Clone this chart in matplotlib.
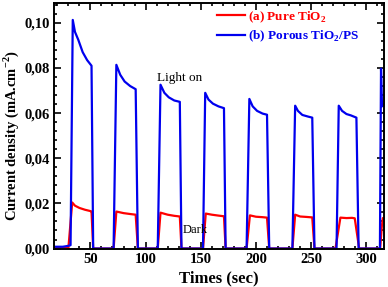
import matplotlib
matplotlib.use('Agg')
import matplotlib.pyplot as plt
from matplotlib.ticker import MultipleLocator, FuncFormatter

plt.rcParams['font.family'] = ['Liberation Serif', 'DejaVu Serif']
plt.rcParams['mathtext.fontset'] = 'custom'
plt.rcParams['mathtext.rm'] = 'Liberation Serif'
plt.rcParams['mathtext.bf'] = 'Liberation Serif:bold'

# (a) Pure TiO2 -- time (sec), current density (mA.cm-2)
pure_t = [17, 29, 30, 33.5, 36, 40, 45, 50, 51, 52.5,
          71, 73.5, 80, 86, 91, 93,
          111, 113.5, 120, 126, 131, 132.5,
          152, 154.5, 160, 166, 171, 172.5,
          191.5, 194.5, 200, 206, 210, 212,
          233, 235.5, 240, 246, 251, 253,
          272, 276.5, 282, 287, 289.5, 293.5,
          312.5, 314, 315, 316.5]
pure_j = [0.0006, 0.0006, 0.0, 0.0204, 0.0190, 0.0180, 0.0172, 0.0166, 0.0164, 0.0,
          0.0, 0.0164, 0.0157, 0.0153, 0.0150, 0.0,
          0.0, 0.0159, 0.0150, 0.0145, 0.0142, 0.0,
          0.0, 0.0155, 0.0150, 0.0146, 0.0143, 0.0,
          0.0, 0.0147, 0.0141, 0.0139, 0.0137, 0.0,
          0.0, 0.0150, 0.0142, 0.0140, 0.0138, 0.0,
          0.0, 0.0137, 0.0135, 0.0136, 0.0134, 0.0,
          0.0, 0.0097, 0.0135, 0.0135]

# (b) Porous TiO2/PS
porous_t = [17, 25, 30, 32, 34, 36, 39, 43, 47, 51, 52.5,
            71, 73.5, 77, 81, 86, 91, 93,
            111, 113.5, 117, 121, 126, 131, 132.5,
            152, 154, 157, 161, 166, 171, 172.5,
            191.5, 194, 197, 201, 206, 210, 212,
            233, 235.5, 238, 242, 247, 251, 253,
            273, 275, 278, 282, 286, 291, 293,
            312.3, 313.3, 314.2, 316.5]
porous_j = [0.0008, 0.0008, 0.0012, 0.0015, 0.1013, 0.0960, 0.0925, 0.0870, 0.0835, 0.0810, 0.0,
            0.0, 0.0814, 0.0770, 0.0740, 0.0720, 0.0706, 0.0,
            0.0, 0.0726, 0.0690, 0.0670, 0.0656, 0.0650, 0.0,
            0.0, 0.0690, 0.0660, 0.0642, 0.0630, 0.0622, 0.0,
            0.0, 0.0663, 0.0630, 0.0610, 0.0598, 0.0593, 0.0,
            0.0, 0.0633, 0.0610, 0.0592, 0.0585, 0.0580, 0.0,
            0.0, 0.0633, 0.0610, 0.0596, 0.0590, 0.0580, 0.0,
            0.0, 0.0797, 0.0630, 0.0640]

fig = plt.figure(figsize=(3.88, 2.87), dpi=100)
ax = fig.add_axes([54/388, 38/287, 330/388, 246/287])

ax.plot(pure_t, pure_j, color='#ff0000', lw=1.6, label='(a) Pure TiO$_\\mathbf{2}$')
ax.plot(porous_t, porous_j, color='#0000ee', lw=1.6, label='(b) Porous TiO$_\\mathbf{2}$/PS')

ax.set_xlim(17, 316)
ax.set_ylim(-0.0002, 0.1088)
ax.xaxis.set_major_locator(MultipleLocator(50))
ax.xaxis.set_minor_locator(MultipleLocator(10))
ax.yaxis.set_major_locator(MultipleLocator(0.02))
ax.yaxis.set_minor_locator(MultipleLocator(0.004))
ax.yaxis.set_major_formatter(FuncFormatter(lambda v, p: ('%.2f' % v).replace('.', ',')))
ax.tick_params(which='both', direction='in', top=True, right=True, width=1.2)
ax.tick_params(which='major', length=5, labelsize=10.5, pad=3)
ax.tick_params(which='minor', length=2.5)
for lab in ax.get_xticklabels() + ax.get_yticklabels():
    lab.set_fontweight('bold')
for sp in ax.spines.values():
    sp.set_linewidth(1.4)

ax.set_xlabel('Times (sec)', fontsize=12, fontweight='bold', labelpad=3)
ax.set_ylabel('Current density (mA.cm$^{\\mathbf{-2}}$)', fontsize=10.5, fontweight='bold')
ax.yaxis.set_label_coords(-0.1, 0.46)

ax.text(110, 0.0743, 'Light on', fontsize=9.5)
ax.text(133.5, 0.0068, 'Dark', fontsize=9)

leg = ax.legend(loc='upper left', bbox_to_anchor=(0.495, 0.975), frameon=False,
                borderpad=0, borderaxespad=0,
                handlelength=2.1, handletextpad=0.2, labelspacing=0.3,
                prop={'weight': 'bold', 'size': 9.5})
for txt, line in zip(leg.get_texts(), leg.get_lines()):
    txt.set_color(line.get_color())

plt.savefig('out.png', dpi=100)
